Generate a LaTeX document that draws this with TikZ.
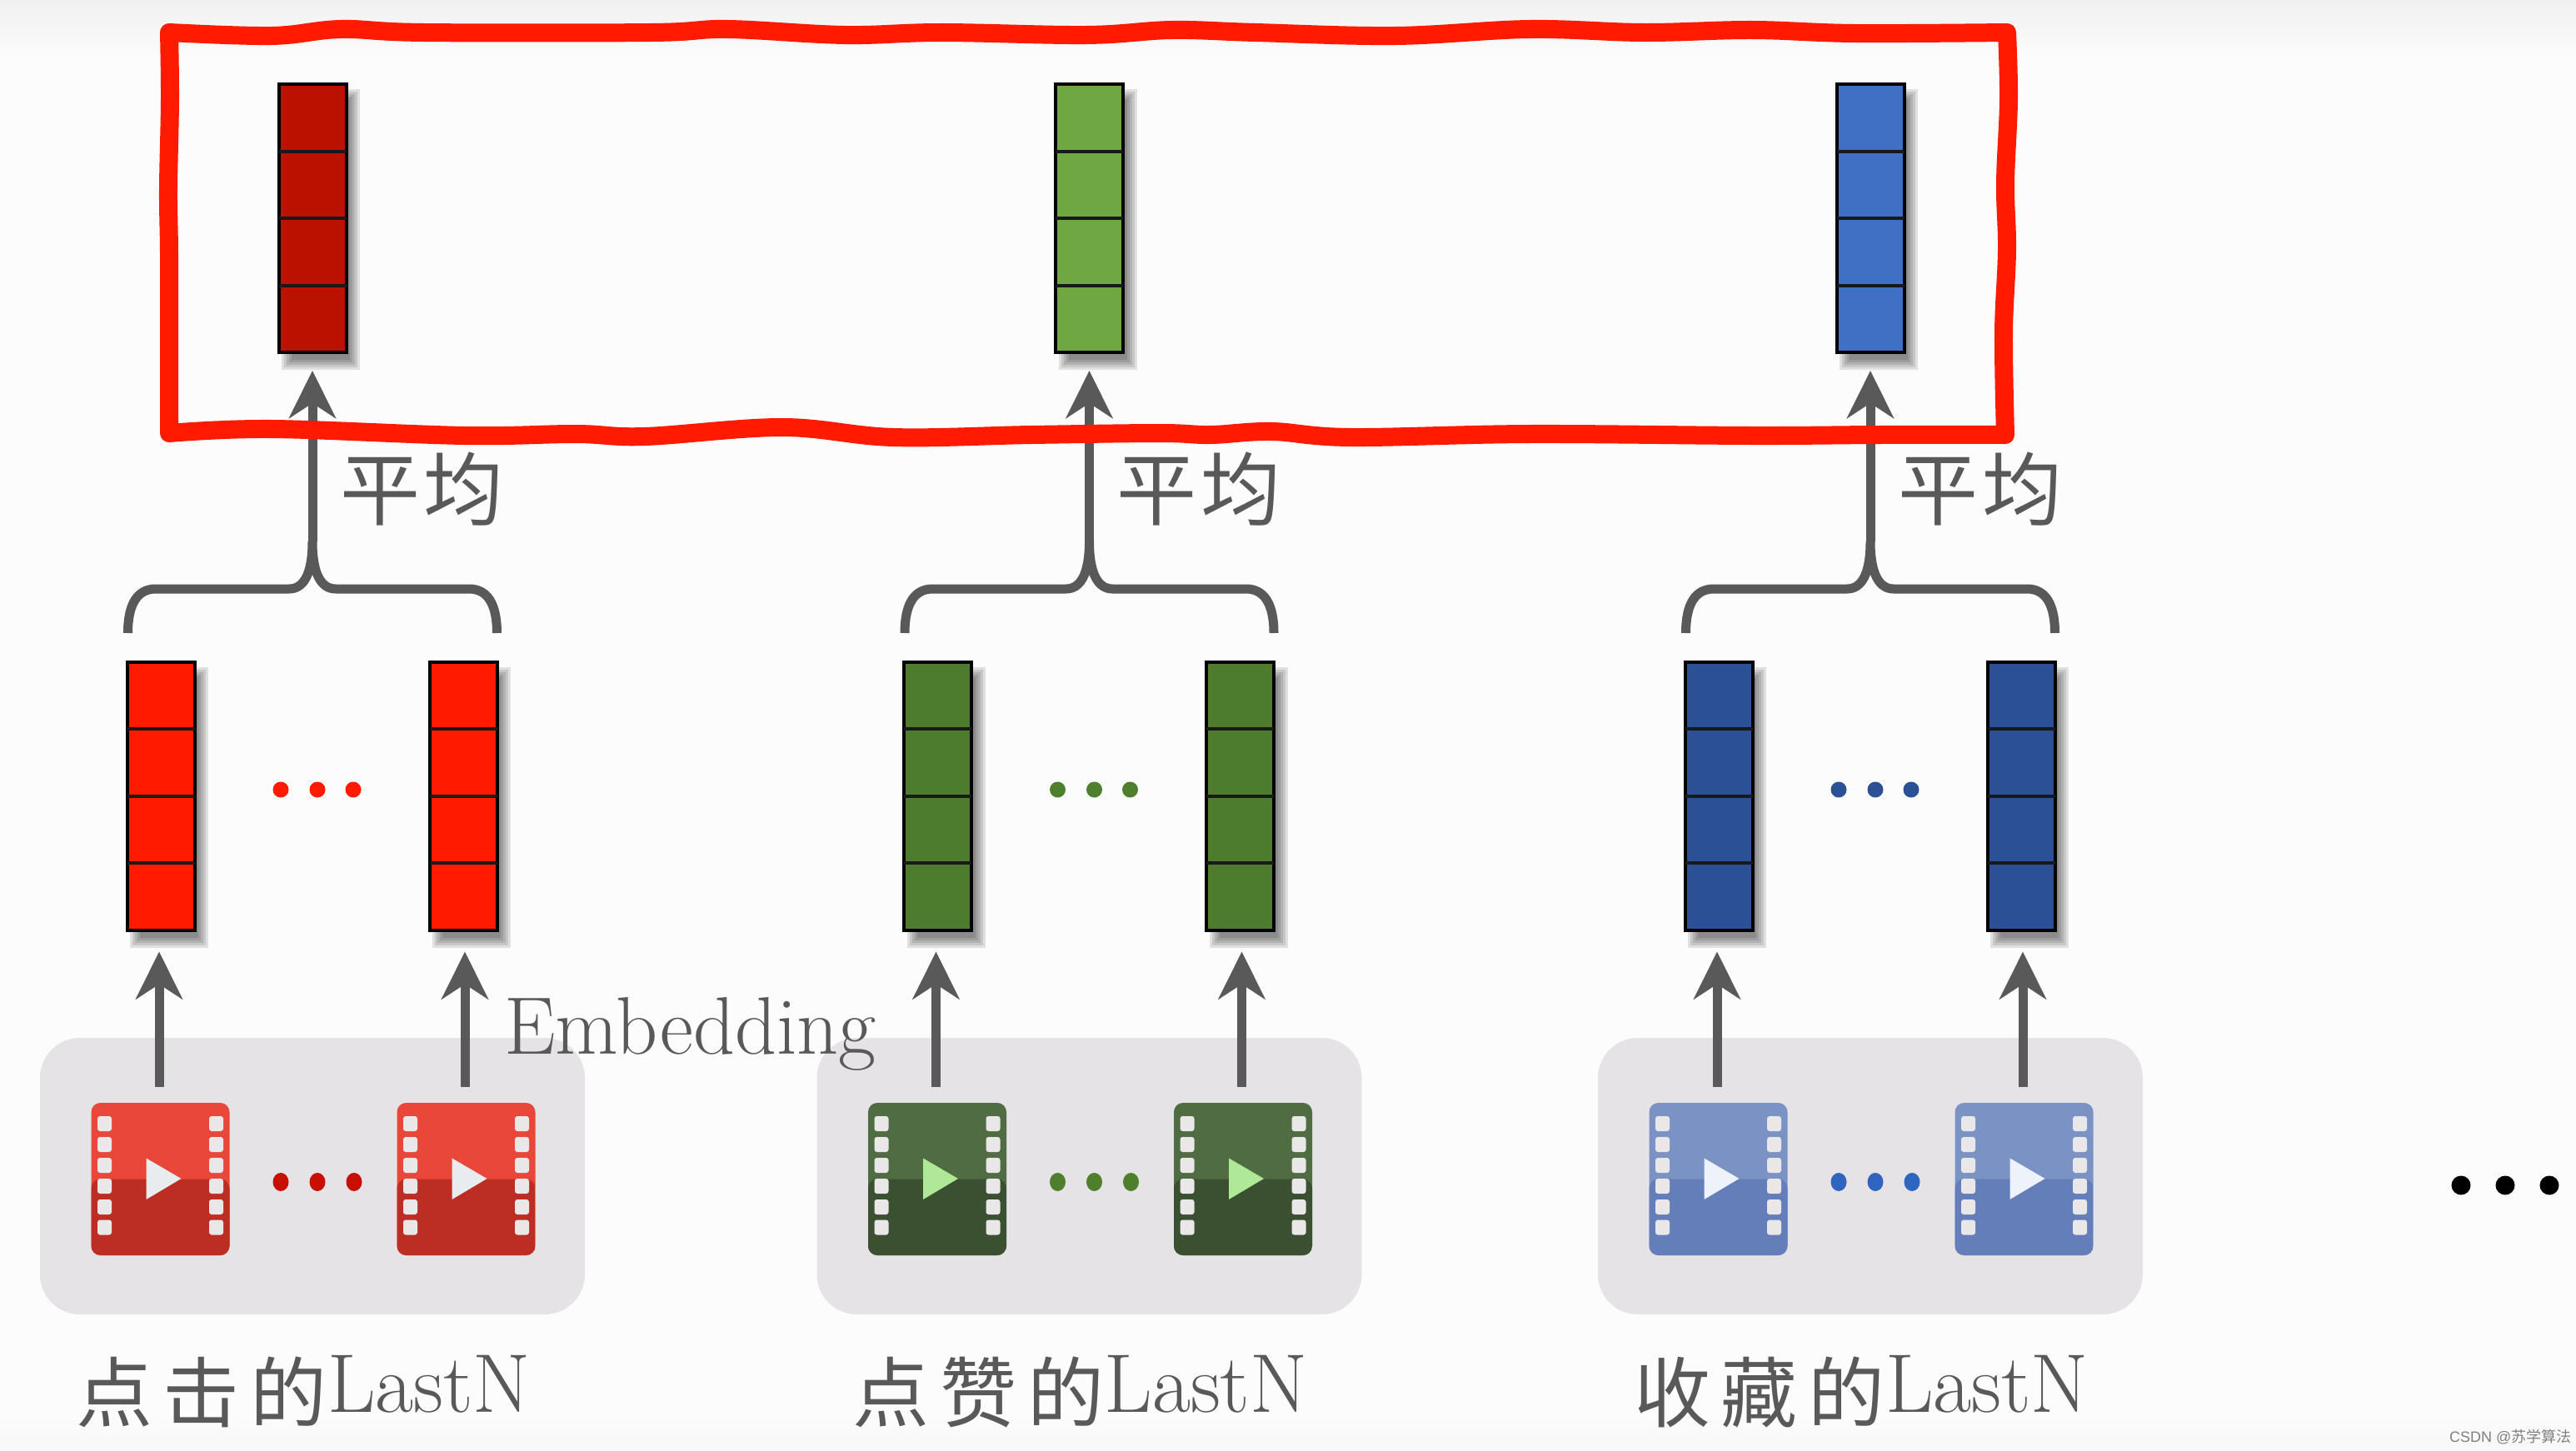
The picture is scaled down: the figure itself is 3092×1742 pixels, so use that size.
\documentclass[tikz,border=0pt]{standalone}
\usepackage{fontspec}
\usetikzlibrary{arrows.meta,calc}
\newfontfamily\cjk{Noto Sans CJK SC}
\definecolor{ink}{HTML}{595959}
\definecolor{panel}{HTML}{E5E3E5}
\definecolor{holecol}{HTML}{E9E7E8}
\definecolor{paper}{HTML}{FDFCFD}
\definecolor{framered}{HTML}{FF1A00}
\definecolor{rtop}{HTML}{BB1100}\definecolor{rmid}{HTML}{FF1A00}\definecolor{rft}{HTML}{E8473A}\definecolor{rfb}{HTML}{BC2E24}\definecolor{rtri}{HTML}{E8ECEE}\definecolor{rdot}{HTML}{C81000}\definecolor{rmdot}{HTML}{FF1A00}
\definecolor{gtop}{HTML}{6FA843}\definecolor{gmid}{HTML}{4E7C2F}\definecolor{gft}{HTML}{506C42}\definecolor{gfb}{HTML}{3A5030}\definecolor{gtri}{HTML}{AFE896}\definecolor{gdot}{HTML}{4E7F2C}\definecolor{gmdot}{HTML}{4E7F2C}
\definecolor{btop}{HTML}{3F70C4}\definecolor{bmid}{HTML}{2B5096}\definecolor{bft}{HTML}{7B93C4}\definecolor{bfb}{HTML}{637EB8}\definecolor{btri}{HTML}{EEF2FA}\definecolor{bdot}{HTML}{2F64C0}\definecolor{bmdot}{HTML}{2B5096}
\tikzset{
  vec/.style={draw=black,line width=4pt,minimum width=81pt,minimum height=322pt,inner sep=0pt,outer sep=0pt},
  div/.style={draw=black!90,line width=4pt},
  arr/.style={draw=ink,fill=ink,line width=11pt,-{Stealth[length=57pt,width=56pt,inset=18pt]}},
  brace/.style={draw=ink,line width=11pt},
  panelbox/.style={fill=panel,rounded corners=48pt},
  lab/.style={text=ink,inner sep=0pt,outer sep=0pt},
  film/.style={minimum width=166pt,minimum height=183pt,inner sep=0pt,outer sep=0pt,rounded corners=11pt},
  hole/.style={fill=holecol,rounded corners=3pt},
  frame/.style={draw=framered,line width=22pt,line join=round,line cap=round},
}
\newcommand{\cjksize}{\fontsize{92}{92}\selectfont}
% name, cx, cy, colour
\newcommand{\vectornode}[4]{%
  \foreach \s in {-7,-4,-1,2,5}
    \fill[black,opacity=.11] (#2-32-\s,#3-150-\s) rectangle (#2+52+\s,#3+177+\s);
  \node[vec,fill=#4] (#1) at (#2,#3) {};
  \foreach \t in {.25,.5,.75}
    \draw[div] ($(#1.north west)!\t!(#1.south west)$) -- ($(#1.north east)!\t!(#1.south east)$);
}
% name, left x, top colour, bottom colour, triangle colour
\newcommand{\filmicon}[5]{%
  \node[film,fill=#3,path picture={\fill[#4] (path picture bounding box.west) rectangle (path picture bounding box.south east);}] (#1) at (#2+83,1415.5) {};
  \foreach \y in {1349,1374,1399,1424,1449,1473.5} {
    \fill[hole] (#2+7.5,\y-9) rectangle (#2+24.5,\y+9);
    \fill[hole] (#2+141.5,\y-9) rectangle (#2+158.5,\y+9);
  }
  \fill[#5] (#2+66,1390.5) -- (#2+108,1415) -- (#2+66,1440) -- cycle;
}
% prefix, offset, characters
\newcommand{\lastgroup}[3]{%
  \fill[panelbox] (#2+48,1246) rectangle (#2+702,1578);
  \vectornode{#1vtop}{#2+375}{262}{#1top}
  \vectornode{#1a}{#2+193}{955.5}{#1mid}
  \vectornode{#1b}{#2+556}{955.5}{#1mid}
  \foreach \x in {337,381,424}
    \fill[#1mdot] (#2+\x,948) circle[radius=9.5];
  \filmicon{#1ia}{#2+109.5}{#1ft}{#1fb}{#1tri}
  \filmicon{#1ib}{#2+476.5}{#1ft}{#1fb}{#1tri}
  \foreach \x in {337,381,425}
    \fill[#1dot] (#2+\x,1419) ellipse[x radius=9.5,y radius=11];
  \coordinate (#1ta) at (#2+191,1305);
  \coordinate (#1tb) at (#2+558,1305);
  \draw[arr,shorten >=26pt] (#1ta) -- (#1ta |- #1a.south);
  \draw[arr,shorten >=26pt] (#1tb) -- (#1tb |- #1b.south);
  \coordinate (#1bl) at (#2+153.5,760);
  \coordinate (#1br) at (#2+596.5,760);
  \coordinate (#1bm) at (#2+375,650);
  \draw[brace] (#1bl) .. controls (#2+153.5,725) and (#2+165,707) .. (#2+187,707)
     -- (#2+347,707) .. controls (#2+364,707) and (#2+375,690) .. (#1bm)
     .. controls (#2+375,690) and (#2+386,707) .. (#2+403,707)
     -- (#2+563,707) .. controls (#2+585,707) and (#2+596.5,725) .. (#1br);
  \draw[arr,shorten >=22pt] (#1bm) -- (#1vtop.south);
  \node[lab,anchor=base west] (#1avg) at (#2+408,623) {\cjk\fontsize{96}{96}\selectfont 平\hspace{5pt}均};
  \node[lab,anchor=base west] (#1name) at (#2+91,1695) {\fontsize{100}{100}\selectfont\addfontfeatures{FakeStretch=1.12,FakeBold=0.5}\makebox[302pt][l]{\raisebox{-11pt}{\cjk\cjksize #3}}LastN};
}
\begin{document}
\begin{tikzpicture}[x=1pt,y=-1pt]
\useasboundingbox (0,0) rectangle (3092,1742);
\fill[paper] (0,0) rectangle (3092,1742);
\shade[top color=black!6,bottom color=paper] (0,0) rectangle (3092,70);
\shade[top color=paper,bottom color=black!3] (0,1700) rectangle (3092,1742);
\lastgroup{r}{0}{点\hspace{13pt}击\hspace{13pt}的}
\lastgroup{g}{932.5}{点\hspace{13pt}赞\hspace{13pt}的}
\lastgroup{b}{1870}{收\hspace{13pt}藏\hspace{13pt}的}
\node[lab,anchor=base west] (emb) at (605,1265) {\fontsize{98}{98}\selectfont\addfontfeatures{FakeStretch=1.10,FakeBold=0.5}Embedding};
\draw[frame] plot[smooth,tension=.6] coordinates {(203,39)(326,43)(409,35)(508,39)(782,39)(873,35)(1014,42)(1130,39)(1304,42)(1407,36)(1507,39)(1675,43)(1836,35)(1973,39)(2103,36)(2226,40)(2409,39)}
  -- plot[smooth,tension=.6] coordinates {(2409,39)(2411,120)(2407,220)(2409,300)(2405,400)(2407,522)}
  -- plot[smooth,tension=.6] coordinates {(2407,522)(2256,522)(2103,523)(1836,521)(1621,525)(1526,518)(1453,522)(1392,520)(1238,522)(1072,525)(939,513)(774,524)(691,521)(558,523)(326,515)(203,520)}
  -- plot[smooth,tension=.6] coordinates {(203,520)(203,400)(203,303)(202,227)(204,120)(203,39)};
\foreach \x in {2954,3007,3060}
  \fill[black] (\x,1423) circle[radius=11.5];
\node[anchor=base west,inner sep=0pt,text=black!50] (mark) at (2940,1731) {\fontsize{18}{18}\selectfont\fontspec{Liberation Sans}CSDN @\cjk 苏学算法};
\end{tikzpicture}
\end{document}
